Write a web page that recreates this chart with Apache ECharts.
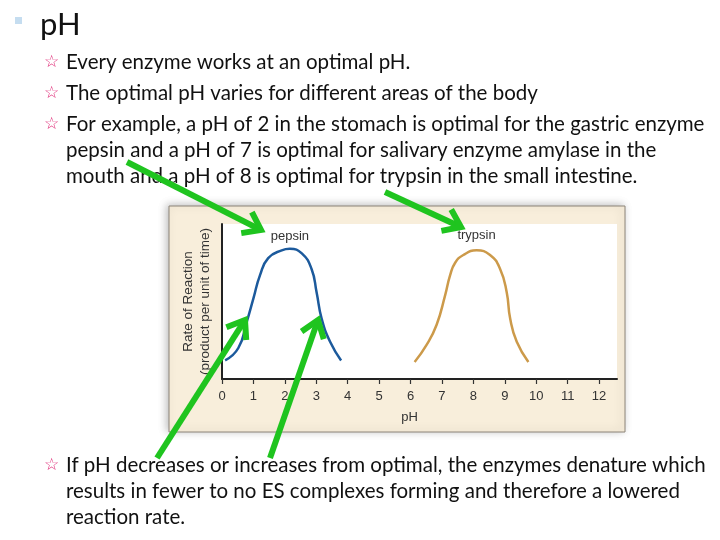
<!DOCTYPE html>
<html>
<head>
<meta charset="utf-8">
<style>
  html, body { margin: 0; padding: 0; background: #fff; }
  #main { width: 720px; height: 540px; }
</style>
<script src="https://cdn.jsdelivr.net/npm/echarts@6/dist/echarts.min.js"></script>
</head>
<body>
<div id="main"></div>
<script>
// pH values and rates
var pepsinPH   = [0.1, 0.52, 0.79, 1.0, 1.21, 1.47, 1.9, 2.16, 2.54, 2.85, 3.01, 3.17, 3.44, 3.79];
var pepsinRate = [0.12, 0.2, 0.37, 0.52, 0.67, 0.78, 0.83, 0.84, 0.81, 0.71, 0.56, 0.39, 0.24, 0.12];
var trypsinPH   = [6.13, 6.51, 6.83, 7.1, 7.26, 7.42, 7.68, 8.1, 8.53, 8.85, 9.06, 9.17, 9.38, 9.75];
var trypsinRate = [0.11, 0.22, 0.35, 0.54, 0.67, 0.75, 0.8, 0.83, 0.8, 0.71, 0.56, 0.39, 0.24, 0.11];
var phTicks = [0, 1, 2, 3, 4, 5, 6, 7, 8, 9, 10, 11, 12];

var slideLines = [
    'Every enzyme works at an optimal pH.',
    'The optimal pH varies for different areas of the body',
    'For example, a pH of 2 in the stomach is optimal for the gastric enzyme',
    'pepsin and a pH of 7 is optimal for salivary enzyme amylase in the',
    'mouth and a pH of 8 is optimal for trypsin in the small intestine.'
];
var footLines = [
    'If pH decreases or increases from optimal, the enzymes denature which',
    'results in fewer to no ES complexes forming and therefore a lowered',
    'reaction rate.'
];

function pairs(xs, ys) {
    return xs.map(function (x, i) { return [x, ys[i]]; });
}

var TXT = 'Lato';
var GREEN = '#1fc41f';

// slide text
var graphics = [];
graphics.push({ type: 'rect', shape: { x: 15, y: 17, width: 7, height: 7 }, style: { fill: '#c5ddf0' } });
graphics.push({ type: 'text', x: 40, y: 25, style: { text: 'pH', font: '31px ' + TXT, fill: '#111', verticalAlign: 'middle' } });

function bullet(y) {
    graphics.push({ type: 'text', x: 44, y: y + 1, style: { text: '\u2606', font: '17px "DejaVu Sans"', fill: '#e0307a', verticalAlign: 'middle' } });
}
var ys1 = [62, 93, 124, 150, 176];
slideLines.forEach(function (t, i) {
    if (i < 3) bullet(ys1[i]);
    graphics.push({ type: 'text', x: 66, y: ys1[i], style: { text: t, font: '20.5px ' + TXT, fill: '#111', verticalAlign: 'middle' } });
});
var ys2 = [465, 491, 517];
footLines.forEach(function (t, i) {
    if (i === 0) bullet(ys2[i]);
    graphics.push({ type: 'text', x: 66, y: ys2[i], style: { text: t, font: '20.5px ' + TXT, fill: '#111', verticalAlign: 'middle' } });
});

// figure panel
graphics.push({
    type: 'rect', z: -10,
    shape: { x: 169, y: 206, width: 456, height: 226 },
    style: { fill: '#f8eedb', stroke: '#8c8478', lineWidth: 1, shadowBlur: 8, shadowColor: 'rgba(0,0,0,0.25)', shadowOffsetX: -2, shadowOffsetY: -1 }
});

// green arrows
function arrow(x1, y1, x2, y2) {
    var dx = x2 - x1, dy = y2 - y1, len = Math.sqrt(dx * dx + dy * dy);
    var ux = dx / len, uy = dy / len, L = 20, a = Math.PI / 5;
    function wing(s) {
        var c = Math.cos(s * a), sn = Math.sin(s * a);
        return [x2 - L * (ux * c - uy * sn), y2 - L * (ux * sn + uy * c)];
    }
    graphics.push({ type: 'line', z: 100, shape: { x1: x1, y1: y1, x2: x2 - ux * 2, y2: y2 - uy * 2 }, style: { stroke: GREEN, lineWidth: 6 } });
    graphics.push({ type: 'polyline', z: 100, shape: { points: [wing(1), [x2, y2], wing(-1)] }, style: { stroke: GREEN, lineWidth: 6, fill: null, lineJoin: 'miter' } });
}
arrow(127, 162, 261, 230);
arrow(385, 192, 461, 227);
arrow(157, 458, 245, 320);
arrow(270, 458, 318, 320);

var myChart = echarts.init(document.getElementById('main'));

var option = {
    backgroundColor: '#fff',
    animation: false,
    grid: {
        left: 222, top: 224, width: 395, height: 155,
        show: true, backgroundColor: '#fff', borderWidth: 0
    },
    xAxis: {
        type: 'value', min: 0, max: 12.57,
        name: 'pH', nameLocation: 'middle', nameGap: 32,
        nameTextStyle: { fontFamily: 'Liberation Sans', fontSize: 13, color: '#333', padding: [0, 20, 0, 0] },
        axisLine: { lineStyle: { color: '#222', width: 2 } },
        axisTick: { show: true, customValues: phTicks, length: 5, lineStyle: { color: '#333', width: 1.2 } },
        axisLabel: { customValues: phTicks, margin: 11, fontFamily: 'Liberation Sans', fontSize: 13, color: '#333' },
        splitLine: { show: false }
    },
    yAxis: {
        type: 'value', min: 0, max: 1,
        name: 'Rate of Reaction\n(product per unit of time)', nameLocation: 'middle', nameGap: 8,
        nameTextStyle: { fontFamily: 'Liberation Sans', fontSize: 13.5, color: '#333', lineHeight: 17 },
        axisLine: { show: true, lineStyle: { color: '#222', width: 2 } },
        axisTick: { show: false },
        axisLabel: { show: false },
        splitLine: { show: false }
    },
    series: [
        {
            name: 'pepsin', type: 'line', smooth: true, symbol: 'none',
            lineStyle: { color: '#1c5a9c', width: 2.5 },
            data: pairs(pepsinPH, pepsinRate),
            markPoint: {
                symbol: 'circle', symbolSize: 0,
                label: { show: true, position: 'top', distance: 6, formatter: 'pepsin', fontFamily: 'Liberation Sans', fontSize: 13, color: '#333' },
                data: [{ type: 'max' }]
            }
        },
        {
            name: 'trypsin', type: 'line', smooth: true, symbol: 'none',
            lineStyle: { color: '#cc9a4a', width: 2.5 },
            data: pairs(trypsinPH, trypsinRate),
            markPoint: {
                symbol: 'circle', symbolSize: 0,
                label: { show: true, position: 'top', distance: 8, formatter: 'trypsin', fontFamily: 'Liberation Sans', fontSize: 13, color: '#333' },
                data: [{ type: 'max' }]
            }
        }
    ],
    graphic: graphics
};

myChart.setOption(option);
</script>
</body>
</html>
